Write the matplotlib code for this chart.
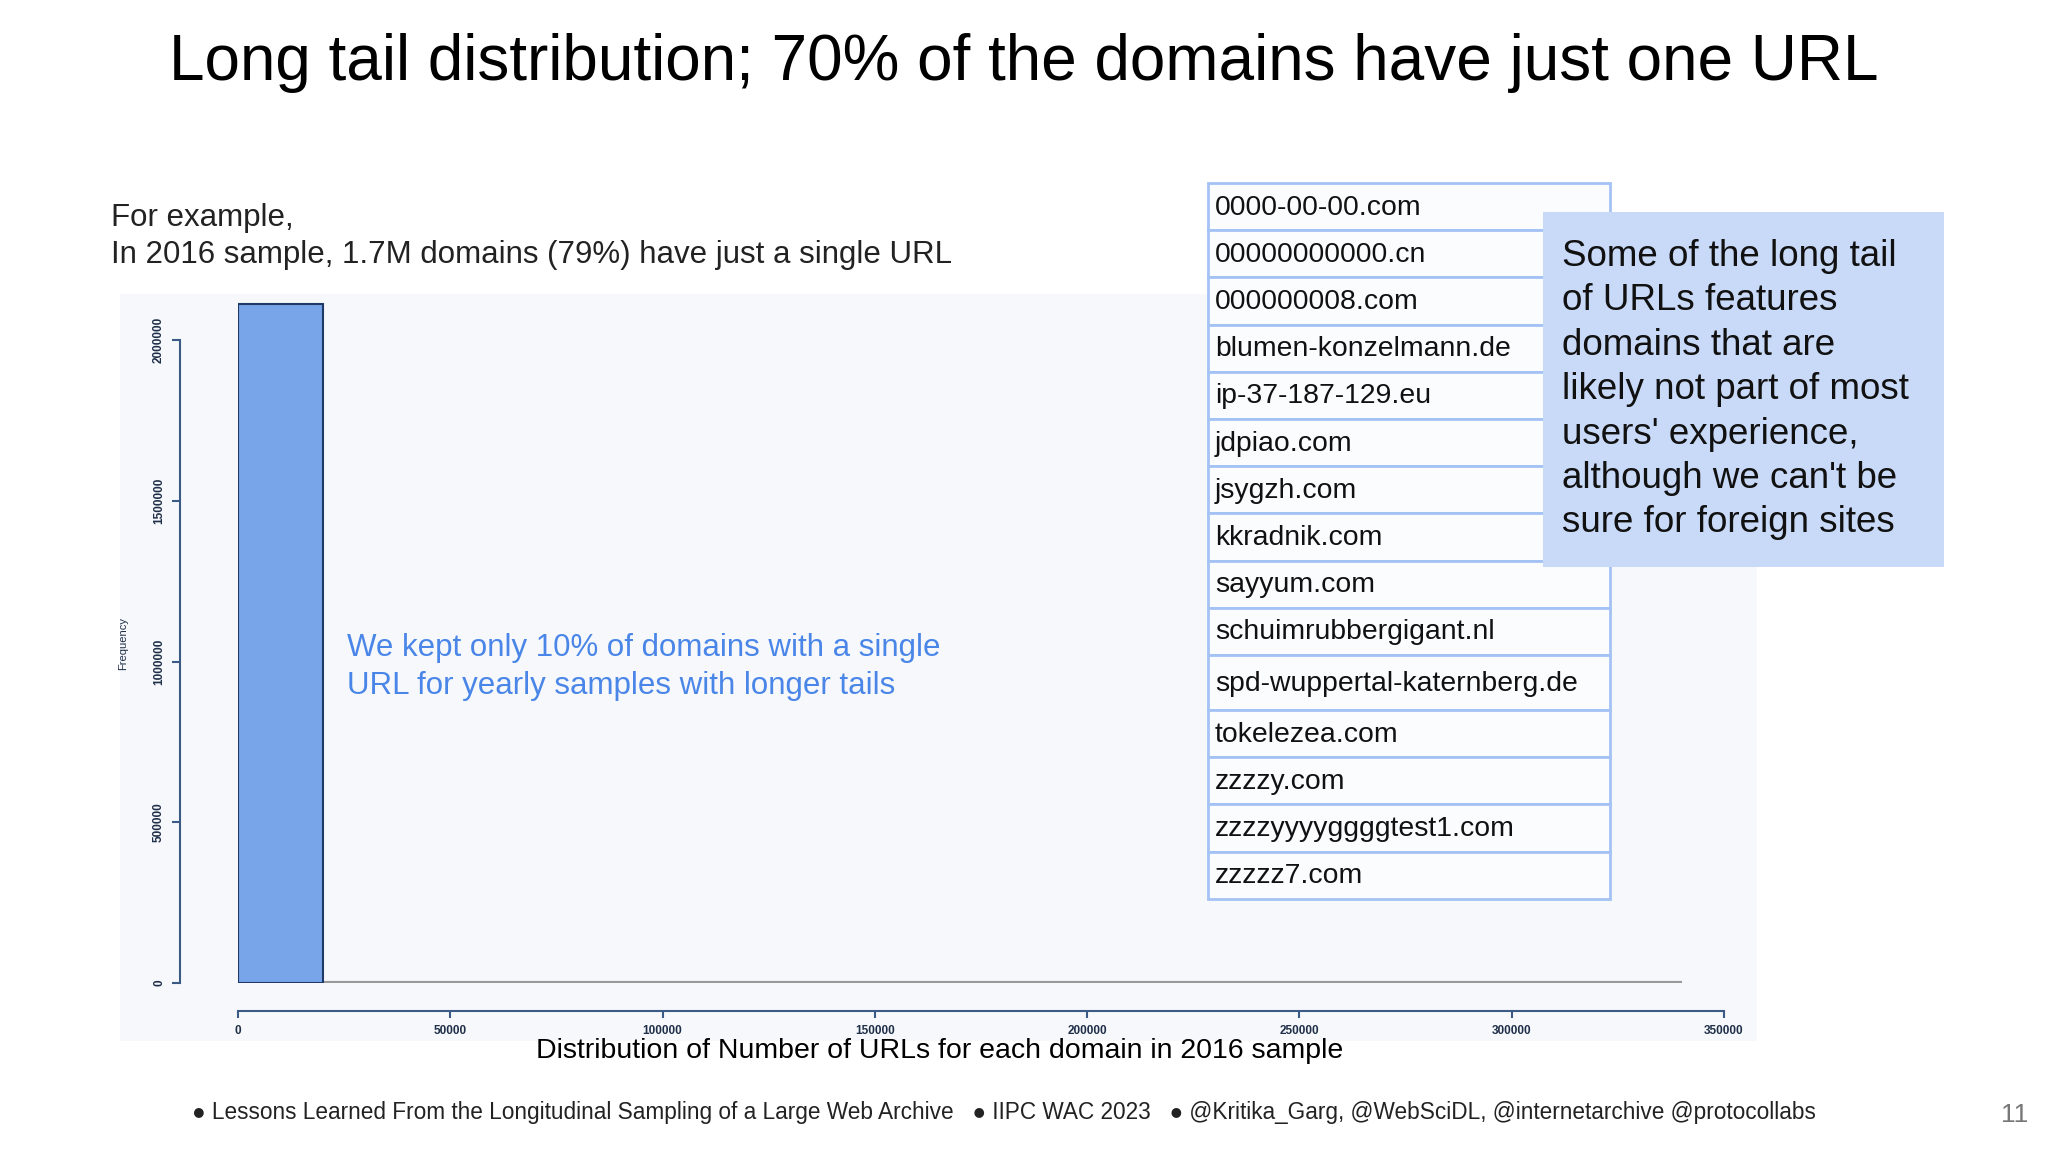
import matplotlib.pyplot as plt
from matplotlib.patches import Rectangle

# данные гистограммы (ширина корзины 20000)
bin_edges = [0, 20000, 40000, 60000, 80000, 100000, 120000, 140000, 160000, 180000,
             200000, 220000, 240000, 260000, 280000, 300000, 320000, 340000]
counts = [2113000, 420, 95, 40, 22, 12, 8, 5, 4, 3, 2, 2, 1, 1, 1, 1, 1]
y_ticks = [0, 500000, 1000000, 1500000, 2000000]
x_ticks = [0, 50000, 100000, 150000, 200000, 250000, 300000, 350000]

# тексты слайда
title = "Long tail distribution; 70% of the domains have just one URL"
intro_lines = ["For example,",
               "In 2016 sample, 1.7M domains (79%) have just a single URL"]
note_lines = ["We kept only 10% of domains with a single",
              "URL for yearly samples with longer tails"]
domains = ["0000-00-00.com", "00000000000.cn", "000000008.com", "blumen-konzelmann.de",
           "ip-37-187-129.eu", "jdpiao.com", "jsygzh.com", "kkradnik.com", "sayyum.com",
           "schuimrubbergigant.nl", "spd-wuppertal-katernberg.de", "tokelezea.com",
           "zzzzy.com", "zzzzyyyyggggtest1.com", "zzzzz7.com"]
callout_lines = ["Some of the long tail", "of URLs features", "domains that are",
                 "likely not part of most", "users' experience,",
                 "although we can't be", "sure for foreign sites"]
xlabel = "Distribution of Number of URLs for each domain in 2016 sample"
footer = ("\u25cf Lessons Learned From the Longitudinal Sampling of a Large Web Archive   "
          "\u25cf IIPC WAC 2023   \u25cf @Kritika_Garg, @WebSciDL, @internetarchive @protocollabs")

W, H = 2048, 1152
plt.rcParams['font.family'] = ['Liberation Sans', 'DejaVu Sans']


def fx(x):
    return x / W


def fy(y):
    return 1 - y / H


fig = plt.figure(figsize=(20.48, 11.52), dpi=100)
fig.patch.set_facecolor("white")

# светлый фон под графиком
fig.patches.append(Rectangle((fx(120), fy(1041)), fx(1757) - fx(120), fy(294) - fy(1041),
                             transform=fig.transFigure, facecolor="#f7f8fc",
                             edgecolor="none", zorder=-5))

# оси гистограммы
ax = fig.add_axes([fx(238), fy(983), fx(1724) - fx(238), fy(276) - fy(983)])
ax.set_zorder(1)
ax.set_facecolor("none")
ax.set_xlim(0, 350000)
ax.set_ylim(0, 2200000)

widths = [bin_edges[i + 1] - bin_edges[i] for i in range(len(counts))]
ax.bar(bin_edges[1:-1], counts[1:], width=widths[1:], align="edge",
       color="#7aa6e8", edgecolor="#9a9a9a", linewidth=3, zorder=2)
ax.bar(bin_edges[0], counts[0], width=widths[0], align="edge",
       color="#78a5e9", edgecolor="#1f3a66", linewidth=1.5, zorder=3)

navy = "#3b5a85"
for s in ["top", "right"]:
    ax.spines[s].set_visible(False)
ax.spines["left"].set_position(("outward", 42))
ax.spines["bottom"].set_position(("outward", 20))
ax.spines["left"].set_bounds(0, 2000000)
ax.spines["bottom"].set_bounds(0, 350000)
for s in ["left", "bottom"]:
    ax.spines[s].set_color(navy)
    ax.spines[s].set_linewidth(1.5)

ax.set_yticks(y_ticks)
ax.set_yticklabels([str(v) for v in y_ticks], rotation=90, va="center",
                   fontsize=8.5, fontweight="bold", color="#1f2f48")
ax.set_xticks(x_ticks)
ax.set_xticklabels([str(v) for v in x_ticks], fontsize=8.5, fontweight="bold",
                   color="#1f2f48")
ax.tick_params(axis="y", direction="out", length=5.5, width=1.5, color=navy, pad=5)
ax.tick_params(axis="x", direction="out", length=5, width=1.5, color=navy, pad=5)

fig.text(fx(123), fy(643), "Frequency", rotation=90, ha="center", va="center",
         fontsize=8, color="#1f2f48")
fig.text(fx(940), fy(1051), xlabel, ha="center", va="center", fontsize=20.5, color="black")

# заголовок и подписи
fig.text(0.5, fy(63), title, ha="center", va="center", fontsize=46, color="black")
for i, line in enumerate(intro_lines):
    fig.text(fx(111), fy(218 + i * 37), line, ha="left", va="center",
             fontsize=22.5, color="#222222")
for i, line in enumerate(note_lines):
    fig.text(fx(347), fy(648 + i * 38), line, ha="left", va="center",
             fontsize=22.5, color="#4a86e8", zorder=5)

# таблица доменов
tx0, tx1 = 1208, 1610
ty = 183
for i, d in enumerate(domains):
    h = 55 if i == 10 else 47.2
    fig.patches.append(Rectangle((fx(tx0), fy(ty + h)), fx(tx1) - fx(tx0), fy(ty) - fy(ty + h),
                                 transform=fig.transFigure, facecolor="#fbfcfe",
                                 edgecolor="#a4c2f4", linewidth=2, zorder=4))
    fig.text(fx(tx0 + 7), fy(ty + h / 2 + 1), d, ha="left", va="center",
             fontsize=20.4, color="#111111", zorder=5)
    ty += h

# выноска
fig.patches.append(Rectangle((fx(1543), fy(567)), fx(1944) - fx(1543), fy(212) - fy(567),
                             transform=fig.transFigure, facecolor="#c9daf8",
                             edgecolor="none", zorder=6))
for i, line in enumerate(callout_lines):
    fig.text(fx(1562), fy(256 + i * 44.5), line, ha="left", va="center",
             fontsize=26.5, color="#111111", zorder=7)

# подвал
fig.text(fx(192), fy(1113), footer, ha="left", va="center", fontsize=16.3, color="#222222")
fig.text(fx(2015), fy(1115), "11", ha="center", va="center", fontsize=19, color="#777777")

fig.savefig("out.png", dpi=100)
